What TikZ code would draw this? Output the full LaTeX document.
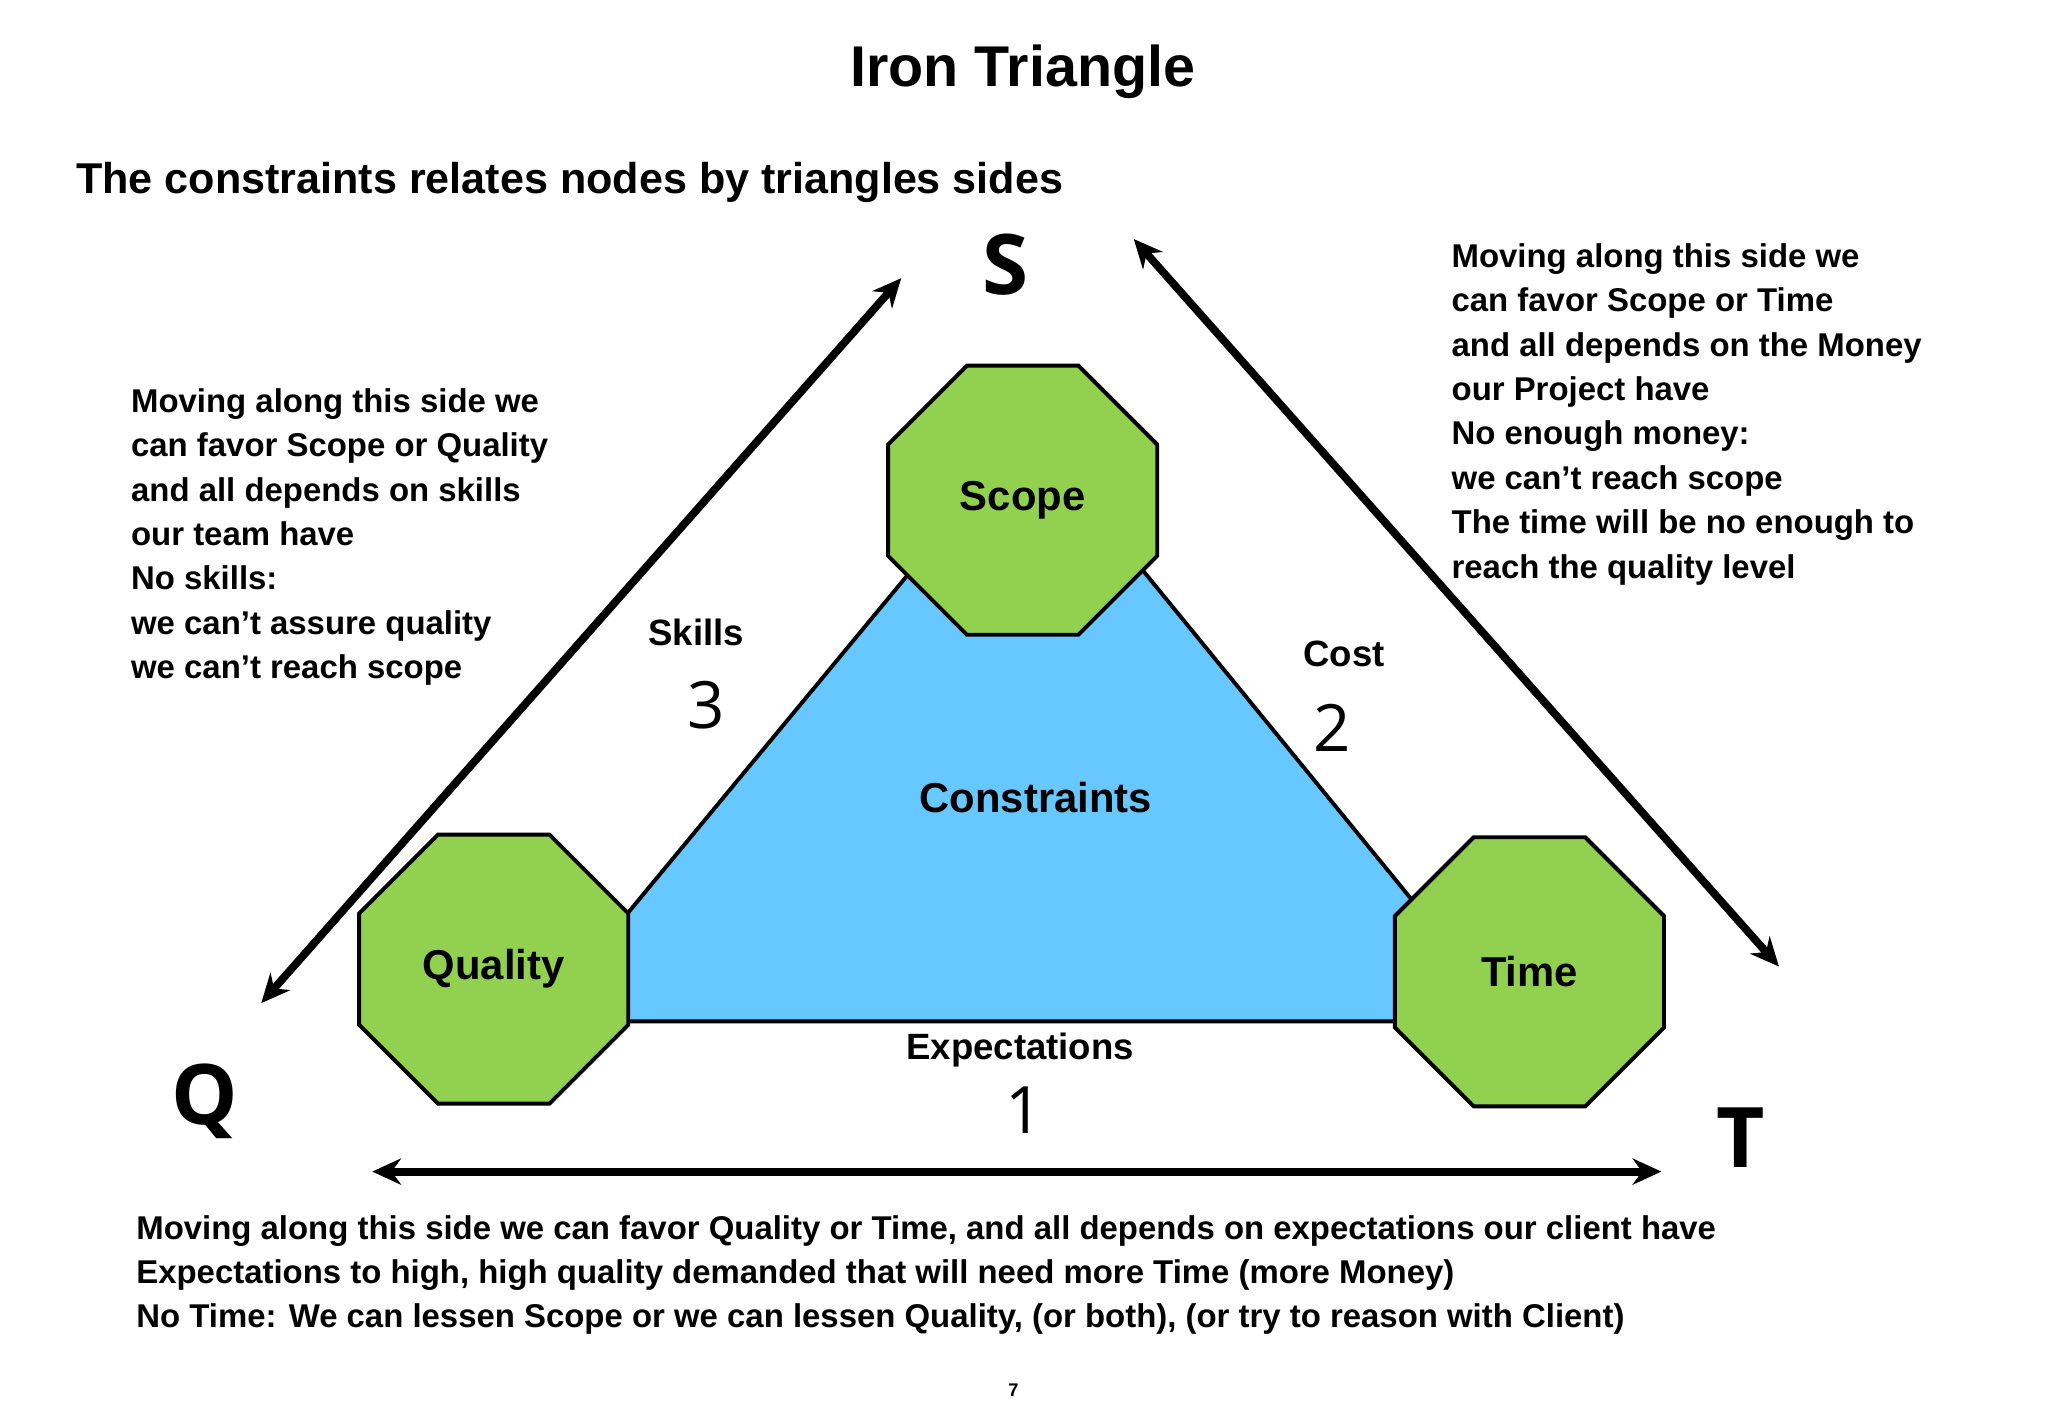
\documentclass[tikz,border=0pt]{standalone}
\usepackage{fontspec}
\setmainfont{Liberation Sans}
\newfontfamily\bigf{Open Sans}
\usetikzlibrary{shapes.geometric,arrows.meta}
\begin{document}
\begin{tikzpicture}[x=0.5pt,y=-0.5pt,
  oct/.style={regular polygon,regular polygon sides=8,minimum size=111.5pt,inner sep=0pt,draw=black,line width=1.5pt,fill=green!45!lime!70!olive,fill=octg,font=\bfseries\fontsize{16}{19}\selectfont},
  lab/.style={font=\bfseries\fontsize{14}{17}\selectfont},
  num/.style={font=\bigf\fontsize{25}{30}\selectfont},
  big/.style={font=\bigf\bfseries\fontsize{32}{38}\selectfont},
  para/.style={anchor=north west,align=left,inner sep=0pt,font=\bfseries\fontsize{12.6}{17}\selectfont},
  arr/.style={line width=3pt,{Stealth[length=11pt,width=10pt]}-{Stealth[length=11pt,width=10pt]}}]
\definecolor{octg}{HTML}{92D050}
\definecolor{triblue}{HTML}{66C8FF}
\useasboundingbox (0,0) rectangle (1568,1085);
\fill[white] (0,0) rectangle (1568,1085);
\coordinate (tq) at (412,782);
\coordinate (ts) at (787,329);
\coordinate (tt) at (1157,782);
\draw[fill=triblue,line width=1.5pt] (tq) -- (ts) -- (tt) -- cycle;
\node[oct] (scope) at (783,383) {Scope};
\node[oct] (quality) at (378,742) {Quality};
\node[oct] (time) at (1171,744) {Time};
\node[font=\bfseries\fontsize{16}{19}\selectfont] (con) at (793,611) {Constraints};
\node[font=\bfseries\fontsize{22}{26}\selectfont] (title) at (783,55) {Iron Triangle};
\node[anchor=west,inner sep=0pt,font=\bfseries\fontsize{16.5}{20}\selectfont] (sub) at (58,140) {The constraints relates nodes by triangles sides};
\node[big] (S) at (770,203) {S};
\node[big] (Q) at (157,843) {Q};
\node[big] (T) at (1333,871) {T};
\coordinate (a1) at (200,768); \coordinate (a2) at (690,213);
\coordinate (b1) at (868,183); \coordinate (b2) at (1362,740);
\coordinate (c1) at (285,897); \coordinate (c2) at (1272,897);
\draw[arr] (a1) -- (a2);
\draw[arr] (b1) -- (b2);
\draw[arr] (c1) -- (c2);
\node[lab] (skills) at (533,484) {Skills};
\node[num] (n3) at (541,540) {3};
\node[lab] (cost) at (1029,501) {Cost};
\node[num] (n2) at (1020,557) {2};
\node[lab] (exp) at (781,804) {Expectations};
\node[num] (n1) at (784,850) {1};
\node[para] (left) at (100,297) {Moving along this side we\\can favor Scope or Quality\\and all depends on skills\\our team have\\No skills:\\we can’t assure quality\\we can’t reach scope};
\node[para] (right) at (1111,186) {Moving along this side we\\can favor Scope or Time\\and all depends on the Money\\our Project have\\No enough money:\\we can’t reach scope\\The time will be no enough to\\reach the quality level};
\node[para] (bottom) at (104,930) {Moving along this side we can favor Quality or Time, and all depends on expectations our client have\\Expectations to high, high quality demanded that will need more Time (more Money)\\No Time: We can lessen Scope or we can lessen Quality, (or both), (or try to reason with Client)};
\node[font=\bfseries\fontsize{7}{8}\selectfont] (page) at (776,1064) {7};
\end{tikzpicture}
\end{document}
